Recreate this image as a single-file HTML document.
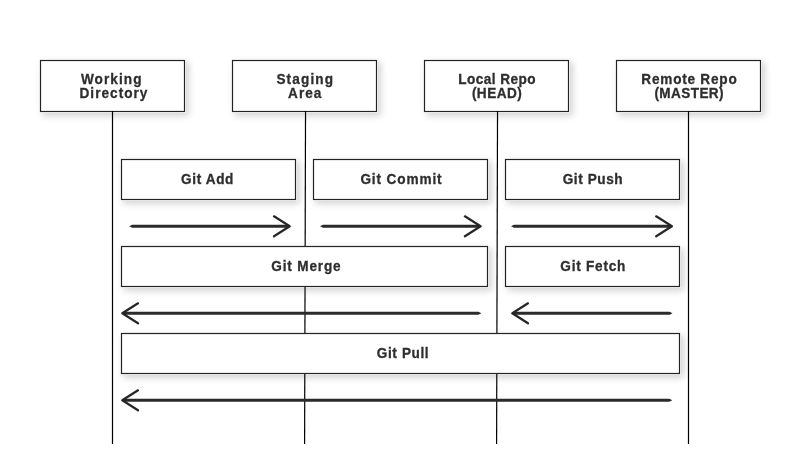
<!DOCTYPE html>
<html><head><meta charset="utf-8"><style>
html,body{margin:0;padding:0;background:#fff;width:800px;height:470px;overflow:hidden}
svg{display:block;will-change:transform}
text{font-family:"Liberation Sans",sans-serif;font-weight:bold;fill:#2e2e2e;stroke:#2e2e2e;stroke-width:0.3}
.bx{fill:#fff;stroke:#fff;stroke-width:2.5}
.wo{fill:#fff;stroke:#fff;stroke-width:2.6}
.bo{fill:none;stroke:#222;stroke-width:1.2}
.bf{fill:#fff;stroke:#222;stroke-width:1.2}
.ln{stroke:#000;stroke-width:1.2}
.af{fill:#2a2a2a}
.hd{stroke:#262626;stroke-width:2.2;stroke-linecap:round;stroke-linejoin:round;fill:none}
</style></head><body>
<svg width="800" height="470" viewBox="0 0 800 470">
<defs><filter id="sh" x="-20%" y="-40%" width="150%" height="200%">
<feGaussianBlur in="SourceAlpha" stdDeviation="3.5"/>
<feOffset dx="3" dy="3" result="b"/>
<feComponentTransfer><feFuncA type="linear" slope="0.18"/></feComponentTransfer>
<feMerge><feMergeNode/><feMergeNode in="SourceGraphic"/></feMerge>
</filter></defs>

<rect class="bx" filter="url(#sh)" x="40.5" y="60.5" width="144" height="51"/><rect class="wo" x="40.5" y="60.5" width="144" height="51"/><rect class="bo" x="40.5" y="60.5" width="144" height="51"/>
<text transform="translate(111.2,83.7) scale(0.92,1)" x="0" y="0" font-size="14.8" text-anchor="middle" textLength="65.87" lengthAdjust="spacing">Working</text>
<text transform="translate(113.45,97.8) scale(0.92,1)" x="0" y="0" font-size="14.8" text-anchor="middle" textLength="73.80" lengthAdjust="spacing">Directory</text>
<rect class="bx" filter="url(#sh)" x="232.5" y="60.5" width="144" height="51"/><rect class="wo" x="232.5" y="60.5" width="144" height="51"/><rect class="bo" x="232.5" y="60.5" width="144" height="51"/>
<text transform="translate(304.75,83.7) scale(0.92,1)" x="0" y="0" font-size="14.8" text-anchor="middle" textLength="61.63" lengthAdjust="spacing">Staging</text>
<text transform="translate(304.7,97.8) scale(0.92,1)" x="0" y="0" font-size="14.8" text-anchor="middle" textLength="36.09" lengthAdjust="spacing">Area</text>
<rect class="bx" filter="url(#sh)" x="424.5" y="60.5" width="144" height="51"/><rect class="wo" x="424.5" y="60.5" width="144" height="51"/><rect class="bo" x="424.5" y="60.5" width="144" height="51"/>
<text transform="translate(496.95,83.7) scale(0.92,1)" x="0" y="0" font-size="14.8" text-anchor="middle" textLength="83.91" lengthAdjust="spacing">Local Repo</text>
<text transform="translate(496.8,97.8) scale(0.92,1)" x="0" y="0" font-size="14.8" text-anchor="middle" textLength="54.13" lengthAdjust="spacing">(HEAD)</text>
<rect class="bx" filter="url(#sh)" x="616.5" y="60.5" width="144" height="51"/><rect class="wo" x="616.5" y="60.5" width="144" height="51"/><rect class="bo" x="616.5" y="60.5" width="144" height="51"/>
<text transform="translate(689.0,83.7) scale(0.92,1)" x="0" y="0" font-size="14.8" text-anchor="middle" textLength="103.70" lengthAdjust="spacing">Remote Repo</text>
<text transform="translate(689.0,97.8) scale(0.92,1)" x="0" y="0" font-size="14.8" text-anchor="middle" textLength="75.22" lengthAdjust="spacing">(MASTER)</text>
<rect class="bx" filter="url(#sh)" x="121.5" y="159.5" width="174.0" height="40"/>
<rect class="bx" filter="url(#sh)" x="313.5" y="159.5" width="174.0" height="40"/>
<rect class="bx" filter="url(#sh)" x="505.5" y="159.5" width="174.0" height="40"/>
<rect class="bx" filter="url(#sh)" x="121.5" y="246.5" width="366.0" height="40"/>
<rect class="bx" filter="url(#sh)" x="505.5" y="246.5" width="174.0" height="40"/>
<rect class="bx" filter="url(#sh)" x="121.5" y="333.5" width="558.0" height="40"/>
<line class="ln" x1="112.5" y1="111" x2="112.5" y2="444"/>
<line class="ln" x1="305.53" y1="111" x2="304.6" y2="444"/>
<line class="ln" x1="497.53" y1="111" x2="496.6" y2="444"/>
<line class="ln" x1="688.5" y1="111" x2="688.5" y2="444"/>
<rect class="bf" x="121.5" y="159.5" width="174.0" height="40"/>
<text transform="translate(207.25,183.5) scale(0.92,1)" x="0" y="0" font-size="14.8" text-anchor="middle" textLength="56.85" lengthAdjust="spacing">Git Add</text>
<rect class="bf" x="313.5" y="159.5" width="174.0" height="40"/>
<text transform="translate(401.0,183.5) scale(0.92,1)" x="0" y="0" font-size="14.8" text-anchor="middle" textLength="88.26" lengthAdjust="spacing">Git Commit</text>
<rect class="bf" x="505.5" y="159.5" width="174.0" height="40"/>
<text transform="translate(592.65,183.5) scale(0.92,1)" x="0" y="0" font-size="14.8" text-anchor="middle" textLength="65.11" lengthAdjust="spacing">Git Push</text>
<rect class="bf" x="121.5" y="246.5" width="366.0" height="40"/>
<text transform="translate(305.95,270.5) scale(0.92,1)" x="0" y="0" font-size="14.8" text-anchor="middle" textLength="75.54" lengthAdjust="spacing">Git Merge</text>
<rect class="bf" x="505.5" y="246.5" width="174.0" height="40"/>
<text transform="translate(592.85,270.5) scale(0.92,1)" x="0" y="0" font-size="14.8" text-anchor="middle" textLength="70.76" lengthAdjust="spacing">Git Fetch</text>
<rect class="bf" x="121.5" y="333.5" width="558.0" height="40"/>
<text transform="translate(402.7,357.5) scale(0.92,1)" x="0" y="0" font-size="14.8" text-anchor="middle" textLength="56.30" lengthAdjust="spacing">Git Pull</text>
<path class="af" d="M129.2,226.3 L132.2,224.85000000000002 L288.5,224.85000000000002 L288.5,227.75 L132.2,227.75 Z"/><polyline class="hd" points="274.0,216.3 289.7,226.3 274.0,236.3"/>
<path class="af" d="M320.0,226.3 L323.0,224.85000000000002 L479.4,224.85000000000002 L479.4,227.75 L323.0,227.75 Z"/><polyline class="hd" points="464.9,216.3 480.59999999999997,226.3 464.9,236.3"/>
<path class="af" d="M511.0,226.3 L514.0,224.85000000000002 L670.7,224.85000000000002 L670.7,227.75 L514.0,227.75 Z"/><polyline class="hd" points="656.2,216.3 671.9000000000001,226.3 656.2,236.3"/>
<path class="af" d="M481.4,313.3 L478.4,311.85 L123.5,311.85 L123.5,314.75 L478.4,314.75 Z"/><polyline class="hd" points="138.0,303.3 122.3,313.3 138.0,323.3"/>
<path class="af" d="M672.5,313.3 L669.5,311.85 L513.5,311.85 L513.5,314.75 L669.5,314.75 Z"/><polyline class="hd" points="528.0,303.3 512.3,313.3 528.0,323.3"/>
<path class="af" d="M672.3,400.3 L669.3,398.85 L123.5,398.85 L123.5,401.75 L669.3,401.75 Z"/><polyline class="hd" points="138.0,390.3 122.3,400.3 138.0,410.3"/>
</svg></body></html>
